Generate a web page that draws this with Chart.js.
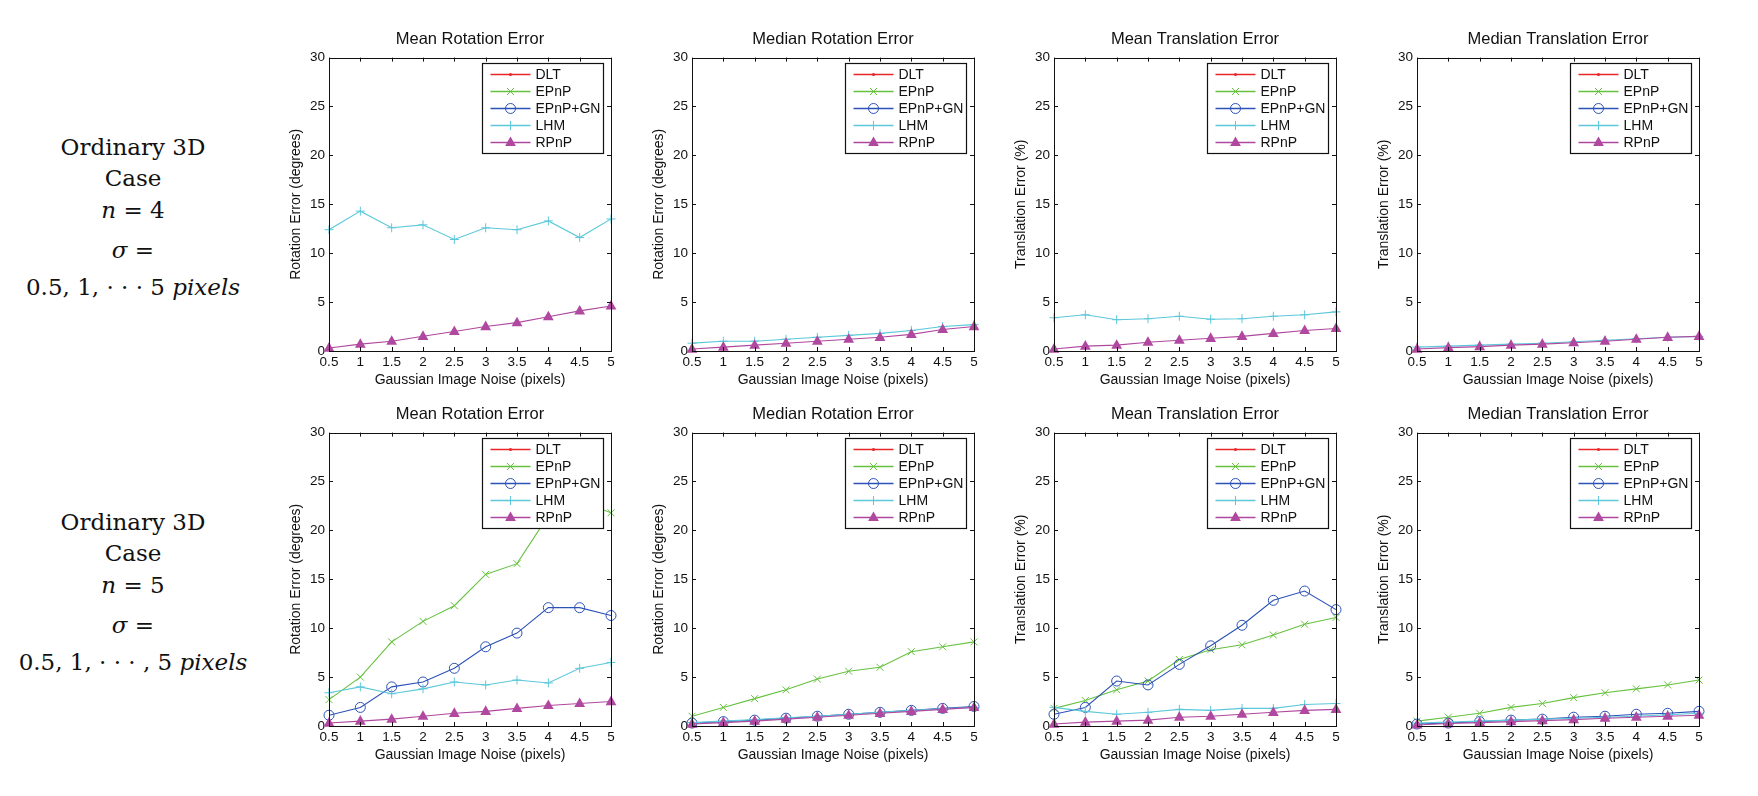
<!DOCTYPE html>
<html>
<head>
<meta charset="utf-8">
<script src="https://cdn.jsdelivr.net/npm/chart.js@4.4.0/dist/chart.umd.min.js"></script>
<style>
  body { margin: 0; background: #fff; width: 1758px; height: 796px; position: relative; overflow: hidden; }
  canvas { position: absolute; }
  .case { position: absolute; left: 0; width: 266px; text-align: center; font-family: "DejaVu Serif", serif; font-size: 23px; color: #111; line-height: 30px; height: 30px; }
  .case i { font-style: italic; }
</style>
</head>
<body>
<div class="case" style="top:132px">Ordinary 3D</div>
<div class="case" style="top:163px">Case</div>
<div class="case" style="top:195px"><i>n</i> = 4</div>
<div class="case" style="top:235px"><i>σ</i> =</div>
<div class="case" style="top:272px">0.5, 1, · · · 5 <i>pixels</i></div>

<div class="case" style="top:507px">Ordinary 3D</div>
<div class="case" style="top:538px">Case</div>
<div class="case" style="top:570px"><i>n</i> = 5</div>
<div class="case" style="top:610px"><i>σ</i> =</div>
<div class="case" style="top:647px">0.5, 1, · · · , 5 <i>pixels</i></div>

<canvas id="c0" width="366" height="395" style="left:259px;top:0px"></canvas>
<canvas id="c1" width="366" height="395" style="left:622px;top:0px"></canvas>
<canvas id="c2" width="366" height="395" style="left:984px;top:0px"></canvas>
<canvas id="c3" width="366" height="395" style="left:1347px;top:0px"></canvas>
<canvas id="c4" width="366" height="395" style="left:259px;top:375px"></canvas>
<canvas id="c5" width="366" height="395" style="left:622px;top:375px"></canvas>
<canvas id="c6" width="366" height="395" style="left:984px;top:375px"></canvas>
<canvas id="c7" width="366" height="395" style="left:1347px;top:375px"></canvas>

<script>
// x values (Gaussian noise, pixels) and method names
const noiseLevels = [0.5, 1, 1.5, 2, 2.5, 3, 3.5, 4, 4.5, 5];
const methods = ['DLT', 'EPnP', 'EPnP+GN', 'LHM', 'RPnP'];
const yTicks = [0, 5, 10, 15, 20, 25, 30];

// n = 4 (DLT, EPnP, EPnP+GN are off the chart, nothing visible)
const n4_meanRot_LHM   = [12.4, 14.3, 12.6, 12.9, 11.4, 12.6, 12.4, 13.3, 11.6, 13.5];
const n4_meanRot_RPnP  = [0.3, 0.7, 1.0, 1.5, 2.0, 2.5, 2.9, 3.5, 4.1, 4.6];
const n4_medRot_LHM    = [0.8, 1.0, 1.0, 1.2, 1.4, 1.6, 1.8, 2.1, 2.5, 2.7];
const n4_medRot_RPnP   = [0.2, 0.4, 0.6, 0.8, 1.0, 1.2, 1.4, 1.7, 2.2, 2.5];
const n4_meanTr_LHM    = [3.4, 3.7, 3.2, 3.3, 3.55, 3.25, 3.3, 3.55, 3.7, 4.0];
const n4_meanTr_RPnP   = [0.2, 0.5, 0.6, 0.9, 1.1, 1.3, 1.5, 1.8, 2.1, 2.3];
const n4_medTr_LHM     = [0.4, 0.5, 0.6, 0.7, 0.8, 0.95, 1.1, 1.25, 1.4, 1.5];
const n4_medTr_RPnP    = [0.2, 0.35, 0.45, 0.6, 0.7, 0.85, 1.0, 1.2, 1.4, 1.5];

// n = 5 (DLT off the chart)
const n5_meanRot_EPnP  = [2.7, 5.0, 8.6, 10.7, 12.3, 15.5, 16.6, 21.5, 23.0, 21.8];
const n5_meanRot_GN    = [1.1, 1.9, 4.0, 4.5, 5.9, 8.1, 9.5, 12.1, 12.1, 11.3];
const n5_meanRot_LHM   = [3.4, 4.0, 3.3, 3.8, 4.5, 4.2, 4.7, 4.4, 5.9, 6.5];
const n5_meanRot_RPnP  = [0.3, 0.5, 0.7, 1.0, 1.3, 1.5, 1.8, 2.1, 2.3, 2.5];
const n5_medRot_EPnP   = [1.0, 1.9, 2.8, 3.7, 4.8, 5.6, 6.0, 7.6, 8.1, 8.6];
const n5_medRot_GN     = [0.3, 0.45, 0.6, 0.8, 1.0, 1.2, 1.4, 1.6, 1.8, 2.0];
const n5_medRot_LHM    = [0.35, 0.5, 0.65, 0.85, 1.0, 1.2, 1.4, 1.6, 1.75, 1.9];
const n5_medRot_RPnP   = [0.2, 0.35, 0.5, 0.7, 0.9, 1.1, 1.3, 1.5, 1.7, 1.9];
const n5_meanTr_EPnP   = [1.8, 2.6, 3.7, 4.6, 6.8, 7.8, 8.3, 9.3, 10.4, 11.1];
const n5_meanTr_GN     = [1.2, 1.9, 4.6, 4.2, 6.3, 8.2, 10.3, 12.85, 13.8, 11.9];
const n5_meanTr_LHM    = [1.9, 1.5, 1.2, 1.4, 1.7, 1.6, 1.8, 1.8, 2.2, 2.3];
const n5_meanTr_RPnP   = [0.2, 0.4, 0.5, 0.6, 0.9, 1.0, 1.2, 1.4, 1.6, 1.7];
const n5_medTr_EPnP    = [0.5, 0.9, 1.3, 1.9, 2.3, 2.9, 3.4, 3.8, 4.2, 4.7];
const n5_medTr_GN      = [0.2, 0.3, 0.45, 0.6, 0.7, 0.9, 1.0, 1.2, 1.3, 1.5];
const n5_medTr_LHM     = [0.3, 0.4, 0.5, 0.6, 0.7, 0.8, 0.9, 1.0, 1.15, 1.3];
const n5_medTr_RPnP    = [0.1, 0.25, 0.35, 0.45, 0.55, 0.65, 0.8, 0.9, 1.0, 1.1];

// marker / colour per method
const styles = {
  'DLT':     { color: '#e8262a', marker: 'dot',      r: 1.5 },
  'EPnP':    { color: '#66c13f', marker: 'crossRot', r: 3.5 },
  'EPnP+GN': { color: '#2c52b6', marker: 'circle',   r: 5 },
  'LHM':     { color: '#5cc8da', marker: 'cross',    r: 4.5 },
  'RPnP':    { color: '#b0489f', marker: 'triangle', r: 6 }
};

const FONT = '"Liberation Sans", Arial, sans-serif';

function drawMarker(ctx, st, x, y) {
  const r = st.r;
  ctx.save();
  ctx.strokeStyle = st.color;
  ctx.fillStyle = st.color;
  ctx.lineWidth = 1;
  ctx.beginPath();
  if (st.marker === 'dot') {
    ctx.arc(x, y, r, 0, Math.PI * 2); ctx.fill();
  } else if (st.marker === 'circle') {
    ctx.arc(x, y, r, 0, Math.PI * 2); ctx.stroke();
  } else if (st.marker === 'cross') {
    ctx.moveTo(x - r, y); ctx.lineTo(x + r, y);
    ctx.moveTo(x, y - r); ctx.lineTo(x, y + r); ctx.stroke();
  } else if (st.marker === 'crossRot') {
    ctx.moveTo(x - r, y - r); ctx.lineTo(x + r, y + r);
    ctx.moveTo(x - r, y + r); ctx.lineTo(x + r, y - r); ctx.stroke();
  } else if (st.marker === 'triangle') {
    ctx.moveTo(x, y - r); ctx.lineTo(x + r * 0.9, y + r * 0.6); ctx.lineTo(x - r * 0.9, y + r * 0.6);
    ctx.closePath(); ctx.fill();
  }
  ctx.restore();
}

// matlab style box, inward ticks and legend in the north east corner
const matlabBox = {
  id: 'matlabBox',
  afterDatasetsDraw(chart) {
    const { ctx, chartArea: a, scales: { x, y } } = chart;
    ctx.save();
    ctx.strokeStyle = '#111';
    ctx.lineWidth = 1;
    ctx.beginPath();
    x.ticks.forEach(t => {
      const px = Math.round(x.getPixelForValue(t.value)) + 0.5;
      ctx.moveTo(px, a.bottom); ctx.lineTo(px, a.bottom - 4);
      ctx.moveTo(px, a.top); ctx.lineTo(px, a.top + 4);
    });
    y.ticks.forEach(t => {
      const py = Math.round(y.getPixelForValue(t.value)) + 0.5;
      ctx.moveTo(a.left, py); ctx.lineTo(a.left + 4, py);
      ctx.moveTo(a.right, py); ctx.lineTo(a.right - 4, py);
    });
    ctx.stroke();
    ctx.strokeRect(Math.round(a.left) + 0.5, Math.round(a.top) + 0.5,
                   Math.round(a.right - a.left), Math.round(a.bottom - a.top));

    // legend
    const w = 121, h = 90;
    const lx = Math.round(a.right - 8 - w) + 0.5, ly = Math.round(a.top + 5) + 0.5;
    ctx.fillStyle = '#fff';
    ctx.fillRect(lx, ly, w, h);
    ctx.lineWidth = 1.2;
    ctx.strokeStyle = '#111';
    ctx.strokeRect(lx, ly, w, h);
    ctx.font = '14px ' + FONT;
    ctx.textBaseline = 'middle';
    methods.forEach((m, i) => {
      const st = styles[m];
      const yy = ly + 11 + 17 * i;
      ctx.strokeStyle = st.color;
      ctx.lineWidth = 1.5;
      ctx.beginPath();
      ctx.moveTo(lx + 8, yy); ctx.lineTo(lx + 48, yy);
      ctx.stroke();
      drawMarker(ctx, st, lx + 28, yy);
      ctx.fillStyle = '#111';
      ctx.fillText(m, lx + 53, yy + 1);
    });
    ctx.restore();
  }
};

// custom point drawing so markers look like matlab ones
const markerPlugin = {
  id: 'markerPlugin',
  afterDatasetDraw(chart, args) {
    const meta = args.meta;
    const st = styles[chart.data.datasets[args.index].label];
    const a = chart.chartArea;
    const ctx = chart.ctx;
    ctx.save();
    ctx.beginPath();
    ctx.rect(a.left - 6, a.top, a.right - a.left + 12, a.bottom - a.top + 8);
    ctx.clip();
    meta.data.forEach(p => {
      if (p.skip) return;
      drawMarker(ctx, st, p.x, p.y);
    });
    ctx.restore();
  }
};

function series(values) {
  return values.map((v, i) => ({ x: noiseLevels[i], y: v }));
}

function makePanel(id, title, yLabel, data) {
  const datasets = methods.map((m, i) => ({
    label: m,
    data: series(data[i] || []),
    borderColor: styles[m].color,
    backgroundColor: styles[m].color,
    borderWidth: 1.1,
    pointRadius: 0,
    tension: 0,
    order: 4 - i
  }));
  new Chart(document.getElementById(id), {
    type: 'line',
    data: { datasets },
    plugins: [markerPlugin, matlabBox],
    options: {
      responsive: false,
      animation: false,
      layout: { padding: { left: 0, right: 14, top: 0, bottom: 0 } },
      plugins: {
        legend: { display: false },
        tooltip: { enabled: false },
        title: {
          display: true,
          fullSize: false,
          text: title,
          color: '#111',
          font: { family: FONT, size: 16.5, weight: 'normal' },
          padding: { top: 29.4, bottom: 8.4 }
        }
      },
      scales: {
        x: {
          type: 'linear',
          min: 0.5,
          max: 5,
          afterFit: s => { s.height = 44; },
          afterBuildTicks: s => { s.ticks = noiseLevels.map(v => ({ value: v })); },
          ticks: {
            callback: v => String(v),
            color: '#111',
            font: { family: FONT, size: 13.5 },
            padding: 3,
            maxRotation: 0,
            autoSkip: false
          },
          grid: { display: false, drawTicks: false },
          border: { display: false },
          title: {
            display: true,
            text: 'Gaussian Image Noise (pixels)',
            color: '#111',
            font: { family: FONT, size: 14 },
            padding: { top: 0, bottom: 6 }
          }
        },
        y: {
          min: 0,
          max: 30,
          afterFit: s => { s.width = 70; },
          afterBuildTicks: s => { s.ticks = yTicks.map(v => ({ value: v })); },
          ticks: {
            color: '#111',
            font: { family: FONT, size: 13.5 },
            padding: 4
          },
          grid: { display: false, drawTicks: false },
          border: { display: false },
          title: {
            display: true,
            text: yLabel,
            color: '#111',
            font: { family: FONT, size: 14 },
            padding: { top: 28.6, bottom: 0 }
          }
        }
      }
    }
  });
}

const rotLabel = 'Rotation Error (degrees)';
const trLabel = 'Translation Error (%)';

makePanel('c0', 'Mean Rotation Error', rotLabel, [[], [], [], n4_meanRot_LHM, n4_meanRot_RPnP]);
makePanel('c1', 'Median Rotation Error', rotLabel, [[], [], [], n4_medRot_LHM, n4_medRot_RPnP]);
makePanel('c2', 'Mean Translation Error', trLabel, [[], [], [], n4_meanTr_LHM, n4_meanTr_RPnP]);
makePanel('c3', 'Median Translation Error', trLabel, [[], [], [], n4_medTr_LHM, n4_medTr_RPnP]);
makePanel('c4', 'Mean Rotation Error', rotLabel, [[], n5_meanRot_EPnP, n5_meanRot_GN, n5_meanRot_LHM, n5_meanRot_RPnP]);
makePanel('c5', 'Median Rotation Error', rotLabel, [[], n5_medRot_EPnP, n5_medRot_GN, n5_medRot_LHM, n5_medRot_RPnP]);
makePanel('c6', 'Mean Translation Error', trLabel, [[], n5_meanTr_EPnP, n5_meanTr_GN, n5_meanTr_LHM, n5_meanTr_RPnP]);
makePanel('c7', 'Median Translation Error', trLabel, [[], n5_medTr_EPnP, n5_medTr_GN, n5_medTr_LHM, n5_medTr_RPnP]);
</script>
</body>
</html>
